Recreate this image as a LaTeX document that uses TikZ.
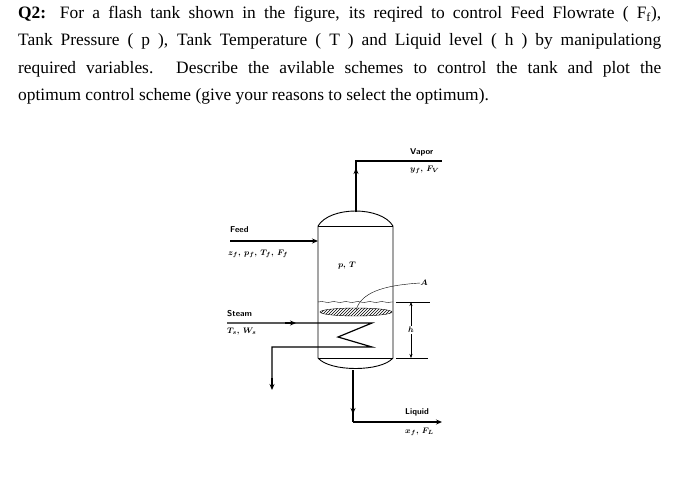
\documentclass[tikz,border=0pt]{standalone}
\usepackage{fontspec}
\setmainfont{Liberation Serif}
\usetikzlibrary{arrows.meta,patterns,decorations.pathmorphing}
\begin{document}
\begin{tikzpicture}[x=1pt,y=-1pt,
  pipe/.style={line width=1.2pt},
  lab/.style={font=\sffamily\bfseries\boldmath\fontsize{8.5}{10}\selectfont,inner sep=0pt},
  tip/.style={-{Stealth[length=6pt,width=5pt]},line width=1.2pt}]
\useasboundingbox (0,0) rectangle (683,493);
\node[anchor=north west,text width=643pt,align=justify,inner sep=0pt,font=\fontsize{17.4}{27.5}\selectfont] (q) at (18,6)
{\textbf{Q2:} For a flash tank shown in the figure, its reqired to control Feed Flowrate ( F\textsubscript{f}),\linebreak Tank Pressure ( p ), Tank Temperature ( T ) and Liquid level ( h ) by manipulationg\linebreak required variables. Describe the avilable schemes to control the tank and plot the\linebreak optimum control scheme (give your reasons to select the optimum).};
% tank
\draw[line width=0.9pt] (318,226) -- (318,358) .. controls (330,372) and (381,372) .. (393,358) -- (393,226) .. controls (381,206) and (330,206) .. cycle;
\draw (318,226) -- (393,226) (318,358) -- (393,358);
% vapor
\coordinate (vt) at (356,212); \coordinate (v1) at (356,161); \coordinate (v2) at (442,161);
\draw[pipe] (vt) -- (v1) -- (v2);
\draw[tip] (356,180) -- (356,168);
\node[lab,anchor=west] (vap) at (410,152) {Vapor};
\node[lab,anchor=west] (vapy) at (410,170) {$y_f,\,F_V$};
% feed
\coordinate (f0) at (230,241); \coordinate (f1) at (318,241);
\draw[tip] (f0) -- (f1);
\node[lab,anchor=west] (feed) at (230,230) {Feed};
\node[lab,anchor=west] (feedz) at (228,254) {$z_f,\,p_f,\,T_f,\,F_f$};
\node[lab] (pT) at (347,266) {$p,\,T$};
% liquid surface
\draw[decorate,decoration={snake,amplitude=0.5pt,segment length=12pt}] (318,302) -- (393,302);
\draw[pattern=north east lines] (356,312) ellipse (36 and 4);
% A
\node[lab] (A) at (424,283) {$A$};
\draw (356,310) .. controls (362,290) and (390,285) .. (A.west);
% steam coil
\coordinate (s0) at (227,323);
\draw[pipe] (s0) -- (372,323) -- (338,337) -- (372,347) -- (272,347) -- (272,385);
\draw[tip] (272,378) -- (272,390);
\draw[tip] (285,323) -- (296,323);
\node[lab,anchor=west] (steam) at (227,314) {Steam};
\node[lab,anchor=west] (steamt) at (227,332) {$T_s,\,W_s$};
% liquid
\coordinate (l1) at (353,422); \coordinate (l2) at (442,422);
\draw[pipe] (353,370) -- (l1);
\draw[tip] (l1) -- (l2);
\draw[tip] (353,400) -- (353,414);
\node[lab,anchor=west] (liq) at (405,412) {Liquid};
\node[lab,anchor=west] (liqx) at (405,432) {$x_f,\,F_L$};
% h
\draw (396,302) -- (430,302) (396,358) -- (428,358);
\draw[{Stealth[length=4pt]}-{Stealth[length=4pt]}] (411,302) -- (411,358);
\node[lab,fill=white,inner sep=1pt] (h) at (411,330) {$h$};
\end{tikzpicture}
\end{document}
